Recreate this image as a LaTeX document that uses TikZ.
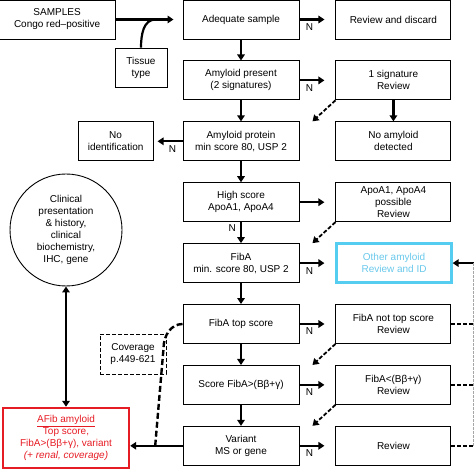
\documentclass[tikz,border=0pt]{standalone}
\usepackage{fontspec}
\setmainfont{Liberation Sans}
\usetikzlibrary{positioning,arrows.meta}
\definecolor{otherline}{RGB}{85,205,240}
\definecolor{othertext}{RGB}{105,200,235}
\definecolor{afibred}{RGB}{230,28,36}

\begin{document}
\begin{tikzpicture}[
	font=\fontsize{10}{12}\selectfont,
	box/.style={draw,line width=0.9pt,align=center,minimum width=116pt,minimum height=39pt,inner sep=2pt},
	sidebox/.style={box,minimum width=115pt},
	arr/.style={line width=2.2pt,-{Triangle[length=6pt,width=7.5pt]}},
	darr/.style={line width=1.8pt,dash pattern=on 4pt off 2pt,-{Triangle[length=6pt,width=7.5pt]}},
	stub/.style={line width=1.8pt,dash pattern=on 4pt off 2pt},
	lbl/.style={below=2pt,inner sep=1pt},
	node distance=21pt and 36pt
	]
	\useasboundingbox (0,0) rectangle (474pt,-470pt);
	% main column
	\node [box] (adeq) at (241pt,-19.5pt) {Adequate sample};
	\node [box,below=of adeq] (apres) {Amyloid present\\(2 signatures)};
	\node [box,below=of apres] (aprot) {Amyloid protein\\min score 80, USP 2};
	\node [box,below=of aprot] (high) {High score\\ApoA1, ApoA4};
	\node [box,below=of high] (fiba) {FibA\\min. score 80, USP 2};
	\node [box,below=of fiba] (ftop) {FibA top score};
	\node [box,below=of ftop] (score) {Score FibA>(Bβ+γ)};
	\node [box,below=of score] (var) {Variant\\MS or gene};
	% right column
	\node [sidebox,right=of adeq] (disc) {Review and discard};
	\node [sidebox,right=of apres] (sig) {1 signature\\Review};
	\node [sidebox,right=of aprot] (noam) {No amyloid\\detected};
	\node [sidebox,right=of high] (apo) {ApoA1, ApoA4\\possible\\Review};
	\node [sidebox,right=of fiba,draw=otherline,line width=2.2pt,text=othertext] (other) {Other amyloid\\Review and ID};
	\node [sidebox,right=of ftop] (ntop) {FibA not top score\\Review};
	\node [sidebox,right=of score] (less) {FibA<(Bβ+γ)\\Review};
	\node [sidebox,right=of var] (rev) {Review};
	% left side
	\node [box,left=67pt of adeq] (samples) {SAMPLES\\Congo red–positive};
	\node [box,minimum width=52pt] (tissue) at (141pt,-67.5pt) {Tissue\\type};
	\node [box,left=29pt of aprot,minimum width=75pt] (noid) {No\\identification};
	\node [draw,line width=0.9pt,circle,minimum size=112pt,align=center,inner sep=1pt] (clin) at (66pt,-230pt) {Clinical\\presentation\\\& history,\\clinical\\biochemistry,\\IHC, gene};
	\node [draw=afibred,line width=2.4pt,text=afibred,align=center,minimum width=126pt,minimum height=60pt,inner sep=2pt] (afib) at (66pt,-438pt) {\underline{AFib amyloid}\\Top score,\\FibA>(Bβ+γ), variant\\\textit{(+ renal, coverage)}};
	\node [draw,line width=0.9pt,dash pattern=on 4pt off 2pt,align=center,minimum width=66pt,minimum height=40pt,inner sep=2pt] (cov) at (133pt,-354pt) {Coverage\\p.449-621};

	\coordinate [right=40pt of samples.east] (tj);
	\coordinate [right=13pt of aprot.north east] (d1);
	\coordinate [right=13pt of fiba.north east] (d2);
	\coordinate [right=13pt of score.north east] (d3);
	\coordinate [right=13pt of var.north east] (d4);
	\coordinate [right=21pt of other.east] (rail);
	\coordinate [right=25pt of afib.east |- var.west] (cj);
	\coordinate [left=19pt of ftop.west,yshift=-24pt] (cb);

	% solid arrows
	\draw [arr,shorten >=9pt] (samples) -- (adeq);
	\draw [line width=2.2pt] (tissue.north) to[out=90,in=180] (tj);
	\foreach \a/\b in {adeq/apres,apres/aprot,aprot/high,fiba/ftop,ftop/score,score/var,sig/noam}
		\draw [arr] (\a) -- (\b);
	\draw [arr] (high) -- node[left=3pt,pos=0.3,inner sep=1pt]{N} (fiba);
	\foreach \a/\b in {adeq/disc,apres/sig,fiba/other,ftop/ntop,score/less,var/rev}
		\draw [arr,shorten >=11pt] (\a) -- node[lbl,pos=0.28]{N} (\b);
	\draw [arr,shorten >=11pt] (high) -- (apo);
	\draw [arr,shorten >=4pt] (aprot) -- node[lbl,pos=0.35]{N} (noid);
	\draw [arr] (var.west) -- (afib.east |- var.west);
	\draw [line width=2.2pt,{Triangle[length=6pt,width=7.5pt]}-{Triangle[length=6pt,width=7.5pt]}] (clin) -- (afib);
	\draw [arr] (rail) -- (other);

	% dashed arrows
	\draw [darr] (sig.south west) -- (d1);
	\draw [darr] (apo.south west) -- (d2);
	\draw [darr] (ntop.south west) -- (d3);
	\draw [darr] (less.south west) -- (d4);
	\foreach \b in {ntop,less,rev}
		\draw [stub] (\b.east) -- (\b.east -| rail);
	\draw [gray!70,line width=2pt,dash pattern=on 2.5pt off 1.5pt] (rev.east -| rail) -- (rail);
	\draw [line width=2.4pt,dash pattern=on 6pt off 3pt] (ftop.west) to[out=180,in=90] (cb) -- (cj);
\end{tikzpicture}
\end{document}
